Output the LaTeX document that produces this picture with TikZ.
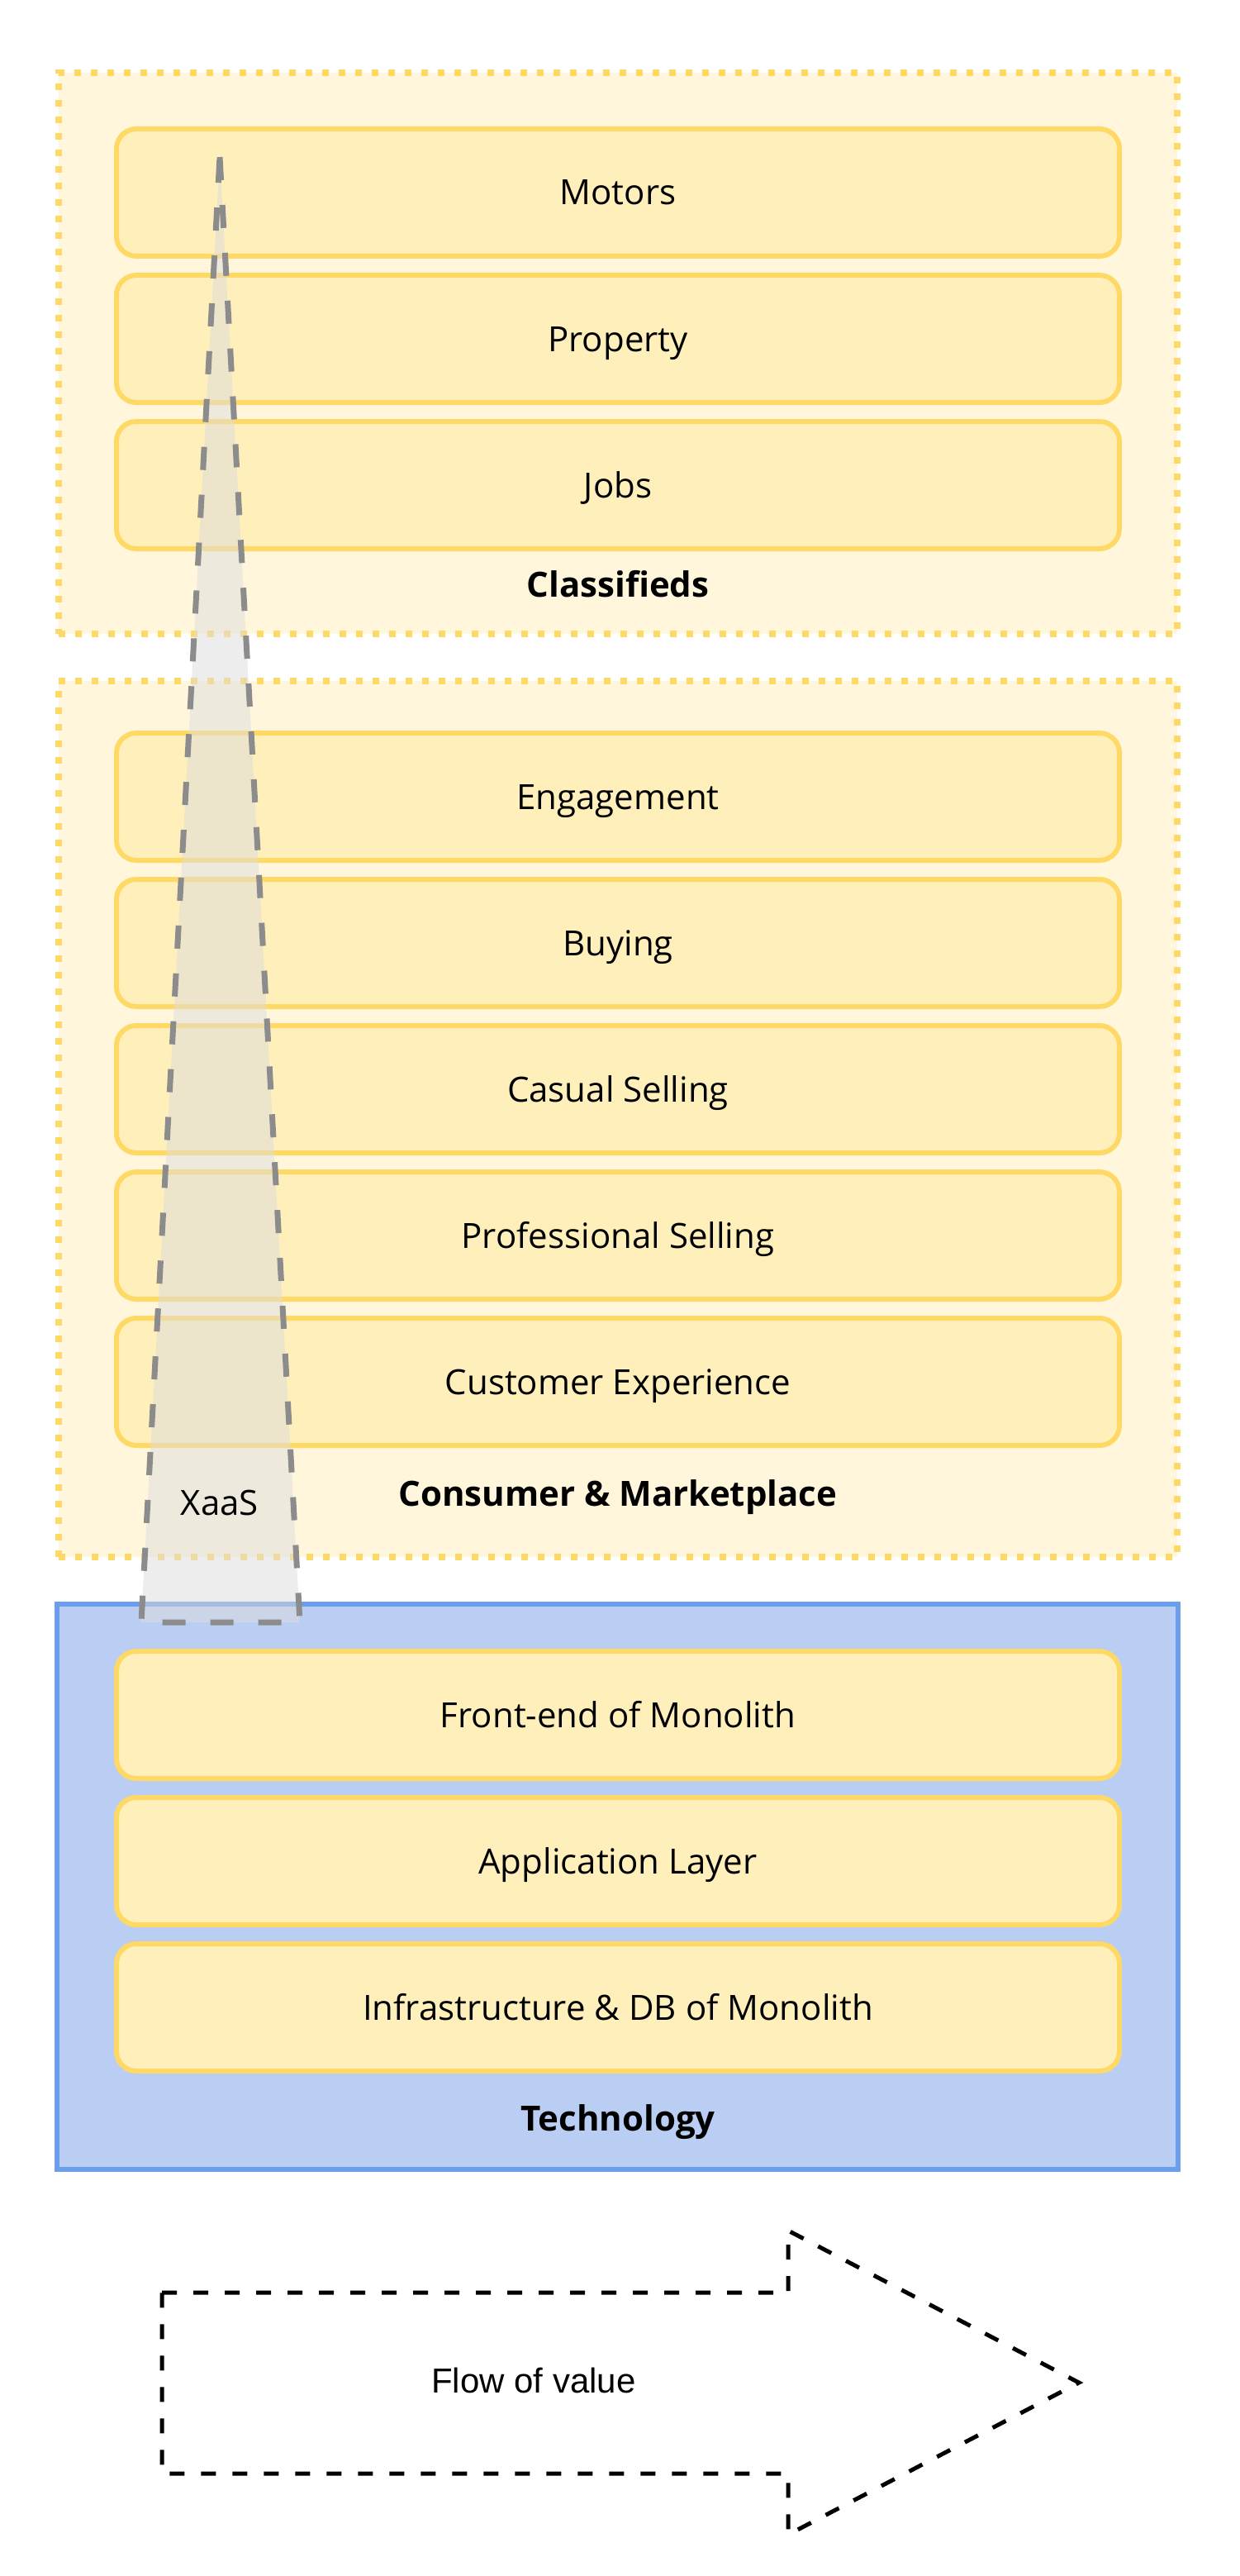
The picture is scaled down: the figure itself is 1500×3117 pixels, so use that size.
\documentclass[tikz,border=0pt]{standalone}
\usepackage{fontspec}
\setmainfont{Open Sans}
\newfontfamily\arialfont{Liberation Sans}
\definecolor{ylw}{HTML}{FFD966}
\definecolor{outerfill}{HTML}{FFF6DB}
\definecolor{innerfill}{HTML}{FFEFBA}
\definecolor{techfill}{HTML}{BACEF3}
\definecolor{techline}{HTML}{6D9EEB}
\definecolor{xaasline}{HTML}{8C8C8C}
\definecolor{xaasfill}{HTML}{DDDDDD}
\tikzset{
  outerbox/.style={draw=ylw, fill=outerfill, line width=8pt, dash pattern=on 8pt off 12pt, minimum width=1354pt, inner sep=0pt},
  layer/.style={draw=ylw, fill=innerfill, line width=6pt, rounded corners=24pt, minimum width=1214pt, minimum height=154pt, inner sep=0pt, text height=40pt, text depth=10pt, font=\fontsize{42}{50}\selectfont},
  techbox/.style={draw=techline, fill=techfill, line width=6pt, minimum width=1357pt, minimum height=684pt, inner sep=0pt},
  grouplabel/.style={anchor=base, font=\fontsize{42}{50}\selectfont\bfseries, inner sep=0pt},
  xaas/.style={draw=xaasline, fill=xaasfill, fill opacity=0.5, draw opacity=1, line width=7pt, dash pattern=on 28pt off 30pt, line join=bevel},
  flowarrow/.style={draw=black, line width=5pt, dash pattern=on 18pt off 20pt},
}
\begin{document}
\begin{tikzpicture}[x=1pt,y=-1pt]
\useasboundingbox (0,0) rectangle (1500,3117);
\fill[white] (0,0) rectangle (1500,3117);
% Classifieds group
\node[outerbox, minimum height=679pt] (cls) at (748,427.5) {};
\node[layer] (motors) at (748,233) {Motors};
\node[layer] (property) at (748,410) {Property};
\node[layer] (jobs) at (748,587) {Jobs};
\node[grouplabel] (clslabel) at (748,722) {Classifieds};
% Consumer & Marketplace group
\node[outerbox, minimum height=1060pt] (cons) at (748,1354) {};
\node[layer] (engagement) at (748,964) {Engagement};
\node[layer] (buying) at (748,1141) {Buying};
\node[layer] (casual) at (748,1318) {Casual Selling};
\node[layer] (professional) at (748,1495) {Professional Selling};
\node[layer] (customer) at (748,1672) {Customer Experience};
\node[grouplabel] (conslabel) at (748,1822) {Consumer \& Marketplace};
% Technology group
\node[techbox] (tech) at (747.5,2283) {};
\node[layer] (frontend) at (748,2075) {Front-end of Monolith};
\node[layer] (application) at (748,2252) {Application Layer};
\node[layer] (infra) at (748,2429) {Infrastructure \& DB of Monolith};
\node[grouplabel] (techlabel) at (748,2578) {Technology};
% XaaS triangle
\coordinate (apex) at (266,190);
\coordinate (baseR) at (363,1963);
\coordinate (baseL) at (171,1963);
\draw[xaas] (apex) -- (baseR) -- (baseL) -- cycle;
\node[anchor=base, inner sep=0pt, font=\fontsize{42}{50}\selectfont] (xaaslabel) at (266,1833) {XaaS};
% Flow of value arrow
\coordinate (a1) at (196,2774);
\coordinate (a2) at (954,2774);
\coordinate (a3) at (954,2699);
\coordinate (a4) at (1306,2883);
\coordinate (a5) at (954,3067);
\coordinate (a6) at (954,2993);
\coordinate (a7) at (196,2993);
\draw[flowarrow] (a1) -- (a2) -- (a3) -- (a4) -- (a5) -- (a6) -- (a7) -- cycle;
\node[anchor=base, inner sep=0pt, font=\arialfont\fontsize{42}{50}\selectfont] (flowlabel) at (646,2895) {Flow of value};
\end{tikzpicture}
\end{document}
